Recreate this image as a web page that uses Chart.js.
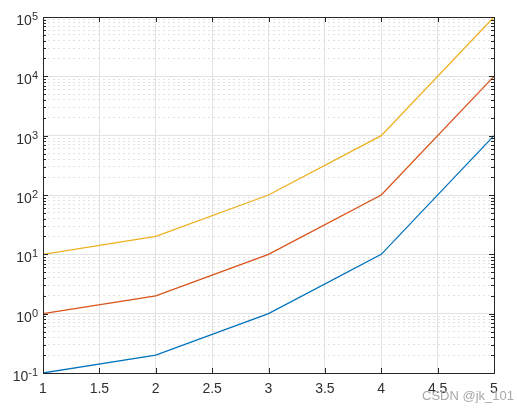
<!DOCTYPE html>
<html>
<head>
<meta charset="utf-8">
<script src="https://cdn.jsdelivr.net/npm/chart.js@4"></script>
<style>
html,body{margin:0;padding:0;background:#fff;}
#wrap{position:relative;width:517px;height:412px;}
.mark{position:absolute;left:422px;top:388px;font:13px "Liberation Sans",Arial,sans-serif;color:#a8a8a8;}
</style>
</head>
<body>
<div id="wrap">
<canvas id="c" width="517" height="412"></canvas>
<div class="mark">CSDN @jk_101</div>
</div>
<script>
// data
var xValues=[1,2,3,4,5];
var blueValues=[0.1,0.2,1,10,1000];
var orangeValues=[1,2,10,100,10000];
var yellowValues=[10,20,100,1000,100000];

var xTicks=[1,1.5,2,2.5,3,3.5,4,4.5,5];
var xTickLabels=['1','1.5','2','2.5','3','3.5','4','4.5','5'];
var yTicks=[0.1,1,10,100,1000,10000,100000];
var yTickBase='10';
var yTickExps=['-1','0','1','2','3','4','5'];

// minor ticks 2..9 in each decade
var yMinorTicks=[];
for(var i=0;i<yTicks.length-1;i++){
    for(var k=2;k<10;k++){
        yMinorTicks.push(Math.round(yTicks[i]*k*1000)/1000);
    }
}

function pts(ys){
    var out=[];
    for(var i=0;i<xValues.length;i++){
        out.push({x:xValues[i],y:ys[i]});
    }
    return out;
}

var fontFam='"Liberation Sans", Arial, sans-serif';
var textCol='#303030';

//box round the plot with inward ticks, like matlab, and 10^n labels
var boxPlugin={
    id:'box',
    afterDraw:function(chart){
        var ctx=chart.ctx;
        var a=chart.chartArea;
        var sx=chart.scales.x, sy=chart.scales.y;
        ctx.save();
        ctx.strokeStyle='#262626';
        ctx.lineWidth=1;
        ctx.beginPath();
        xTicks.forEach(function(v){
            var px=Math.round(sx.getPixelForValue(v))+0.5;
            ctx.moveTo(px,a.bottom);ctx.lineTo(px,a.bottom-5);
            ctx.moveTo(px,a.top);ctx.lineTo(px,a.top+5);
        });
        yTicks.forEach(function(v){
            var py=Math.round(sy.getPixelForValue(v))+0.5;
            ctx.moveTo(a.left,py);ctx.lineTo(a.left+5,py);
            ctx.moveTo(a.right,py);ctx.lineTo(a.right-5,py);
        });
        yMinorTicks.forEach(function(v){
            var py=Math.round(sy.getPixelForValue(v))+0.5;
            ctx.moveTo(a.left,py);ctx.lineTo(a.left+3,py);
            ctx.moveTo(a.right,py);ctx.lineTo(a.right-3,py);
        });
        ctx.stroke();
        ctx.strokeRect(Math.round(a.left)+0.5,Math.round(a.top)+0.5,Math.round(a.right-a.left),Math.round(a.bottom-a.top));

        // y tick labels with a real superscript
        ctx.fillStyle=textCol;
        ctx.textBaseline='alphabetic';
        ctx.textAlign='left';
        yTicks.forEach(function(v,i){
            var py=sy.getPixelForValue(v);
            ctx.font='14px '+fontFam;
            var wb=ctx.measureText(yTickBase).width;
            ctx.font='11px '+fontFam;
            var we=ctx.measureText(yTickExps[i]).width;
            var x0=a.left-5-wb-we;
            ctx.font='14px '+fontFam;
            ctx.fillText(yTickBase,x0,py+8);
            ctx.font='11px '+fontFam;
            ctx.fillText(yTickExps[i],x0+wb,py+3);
        });
        ctx.restore();
    }
};

var ctx=document.getElementById('c').getContext('2d');
var chart=new Chart(ctx,{
    type:'line',
    data:{
        datasets:[
            {data:pts(blueValues),borderColor:'#0072BD',borderWidth:1.3,pointRadius:0,tension:0,fill:false},
            {data:pts(orangeValues),borderColor:'#D95319',borderWidth:1.3,pointRadius:0,tension:0,fill:false},
            {data:pts(yellowValues),borderColor:'#EDB120',borderWidth:1.3,pointRadius:0,tension:0,fill:false}
        ]
    },
    options:{
        responsive:false,
        animation:false,
        layout:{padding:{left:0,right:23,top:17,bottom:0}},
        plugins:{legend:{display:false},tooltip:{enabled:false}},
        scales:{
            x:{
                type:'linear',min:1,max:5,
                afterBuildTicks:function(s){s.ticks=xTicks.map(function(v){return {value:v};});},
                afterFit:function(s){s.height=39;},
                ticks:{
                    autoSkip:false,maxRotation:0,padding:8,color:textCol,
                    font:{family:fontFam,size:14},
                    callback:function(v,i){return xTickLabels[i];}
                },
                grid:{color:'#e2e2e2',drawTicks:false},
                border:{display:false}
            },
            y:{
                type:'logarithmic',position:'left',min:0.1,max:100000,
                afterBuildTicks:function(s){s.ticks=yTicks.map(function(v){return {value:v,major:true};});},
                afterFit:function(s){s.width=43;},
                ticks:{display:false},
                grid:{color:'#e2e2e2',drawTicks:false},
                border:{display:false}
            },
            yMinor:{
                type:'logarithmic',position:'left',min:0.1,max:100000,
                afterBuildTicks:function(s){s.ticks=yMinorTicks.map(function(v){return {value:v};});},
                afterFit:function(s){s.width=0;},
                ticks:{display:false},
                grid:{color:'#e2e2e2',drawTicks:false},
                border:{display:false,dash:[2,3]}
            }
        }
    },
    plugins:[boxPlugin]
});
</script>
</body>
</html>
